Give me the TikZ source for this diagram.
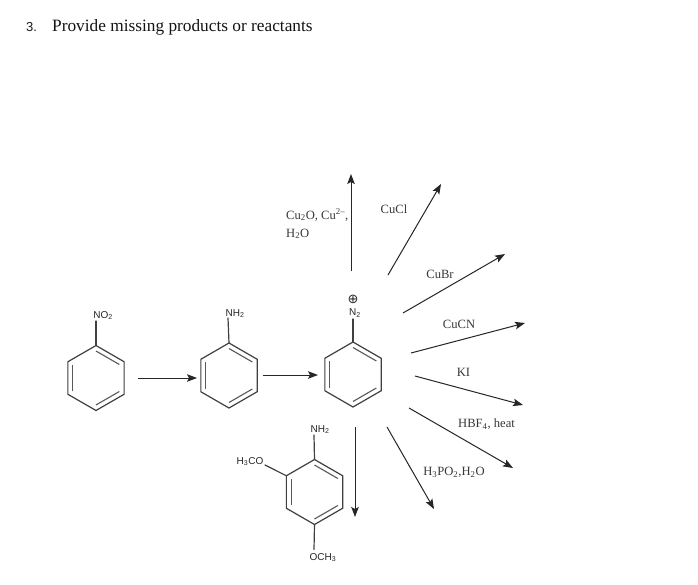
\documentclass[tikz,border=0pt]{standalone}
\usepackage{fontspec}
\setmainfont{Liberation Serif}
\newfontfamily\chemfont{Liberation Sans}
\newfontfamily\symfont{DejaVu Sans}
\usetikzlibrary{arrows.meta,calc}
\tikzset{
  bond/.style={draw=black!75,line width=1.2pt,line cap=round},
  inner bond/.style={draw=black!65,line width=1.1pt},
  rxn/.style={draw=black!85,line width=1pt,-{Stealth[length=10pt,width=7.5pt,inset=2pt]}},
  atom/.style={font=\chemfont\fontsize{10}{12}\selectfont,text=black!85,inner sep=0pt},
  reagent/.style={font=\fontsize{12.6}{14}\selectfont,text=black!78,inner sep=0pt},
}
\newcommand{\benzring}[3]{%
  \coordinate (#1c) at (#2,#3);
  \foreach \k/\a in {1/90,2/30,3/-30,4/-90,5/-150,6/150}{
    \coordinate (#1\k) at ($(#1c)+(\a:32.5 and -32.5)$);
  }
  \draw[bond] (#11)--(#12)--(#13)--(#14)--(#15)--(#16)--cycle;
  \foreach \p/\q in {1/2,3/4,5/6}{
    \draw[inner bond] ($(#1c)!0.83!(#1\p)$)--($(#1c)!0.83!(#1\q)$);
  }
}
\begin{document}
\begin{tikzpicture}[x=1pt,y=-1pt]
\useasboundingbox (0,0) rectangle (698,584);
\fill[white] (0,0) rectangle (698,584);
\node[anchor=base west,inner sep=0pt,font=\fontsize{13}{15}\selectfont\chemfont,text=black!90] (num) at (26,31.5) {3.};
\node[anchor=base west,inner sep=0pt,font=\fontsize{17.3}{20}\selectfont,text=black!92] (title) at (52,31.5) {Provide missing products or reactants};

\benzring{a}{96}{378}
\benzring{b}{229}{375.5}
\benzring{c}{353}{374.5}
\benzring{d}{314.5}{492}

\node[atom] (no2) at (103,315.5) {NO\textsubscript{2}};
\node[atom] (nh2a) at (235,313.5) {NH\textsubscript{2}};
\node[atom] (n2) at (355,313) {N\textsubscript{2}};
\node[inner sep=0pt,text=black!85,font=\symfont\fontsize{13}{14}\selectfont] (plus) at (353,299.5) {⊕};
\node[atom] (nh2b) at (320,429.5) {NH\textsubscript{2}};
\node[atom] (meoa) at (250,461.5) {H\textsubscript{3}CO};
\node[atom] (meob) at (323,557.5) {OCH\textsubscript{3}};

\coordinate (no2b) at (96,321);
\coordinate (nh2ab) at (228,318);
\coordinate (n2b) at (353,319);
\coordinate (nh2bb) at (314,435);
\coordinate (meoab) at (265,465);
\coordinate (meobb) at (314,549.5);
\draw[bond] (a1)--(no2b);
\draw[bond] (b1)--(nh2ab);
\draw[bond] (c1)--(n2b);
\draw[bond] (d1)--(nh2bb);
\draw[bond] (d6)--(meoab);
\draw[bond] (d4)--(meobb);

\foreach \n/\x/\y in {s1/138/378,e1/197/378,s2/263/375,e2/318/375,s3/355/427,e3/355/517,s4/351/271,e4/351/174,s5/388/275,e5/441/184,s6/403/313,e6/505/254,s7/411/353,e7/525/323,s8/415/376,e8/523/405,s9/409/408,e9/513/468,s10/387/427,e10/434/509}{
  \coordinate (\n) at (\x,\y);
}
\foreach \i in {1,...,10}{ \draw[rxn] (s\i)--(e\i); }

\node[reagent,anchor=base west] (r1) at (286,219) {Cu\textsubscript{2}O, Cu\textsuperscript{2--},};
\node[reagent,anchor=base west] (r1b) at (286,237) {H\textsubscript{2}O};
\node[reagent] (r2) at (394,209) {CuCl};
\node[reagent] (r3) at (440,274.5) {CuBr};
\node[reagent] (r4) at (459,324.5) {CuCN};
\node[reagent] (r5) at (463.5,372.5) {KI};
\node[reagent] (r6) at (486.5,424.5) {HBF\textsubscript{4}, heat};
\node[reagent] (r7) at (454,472) {H\textsubscript{3}PO\textsubscript{2},H\textsubscript{2}O};
\end{tikzpicture}
\end{document}
